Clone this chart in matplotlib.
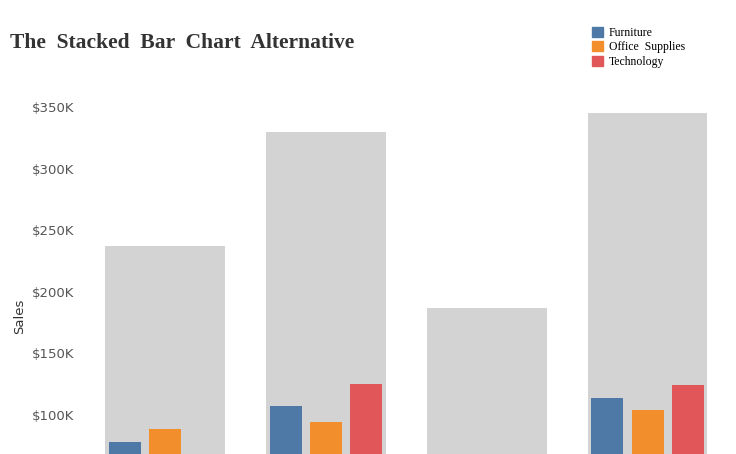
import matplotlib.pyplot as plt
import numpy as np
from matplotlib.patches import Patch

groups = [0, 1, 2, 3]
totals = [237, 330, 187, 345]
furniture = [78, 107, 60, 114]
office = [89, 94, 60, 104]
technology = [60, 125, 60, 124]
yticks = [100, 150, 200, 250, 300, 350]
ytick_labels = ["$100K", "$150K", "$200K", "$250K", "$300K", "$350K"]

fig = plt.figure(figsize=(7.36, 4.54), dpi=100)
ax = fig.add_axes([85/736, 0, 651/736, 369/454])
x = np.array(groups)
ax.bar(x, totals, width=0.745, color="#d3d3d3", zorder=1)
ax.bar(x - 0.25, furniture, width=0.2, color="#4e79a7", zorder=2)
ax.bar(x, office, width=0.2, color="#f28e2b", zorder=2)
ax.bar(x + 0.25, technology, width=0.2, color="#e15759", zorder=2)
ax.set_xlim(-0.5, 3.55)
ax.set_ylim(68.3, 368)
ax.set_yticks(yticks)
ax.set_yticklabels(ytick_labels, color="#555555", fontsize=9.5)
ax.set_xticks([])
ax.tick_params(axis="y", length=0, pad=8)
for s in ax.spines.values():
    s.set_visible(False)
fig.text(20/736, 1 - 316/454, "Sales", rotation=90, va="center", ha="center", fontsize=9.5, color="#333333")
fig.text(10/736, 1 - 43/454, "The  Stacked  Bar  Chart  Alternative", family="Liberation Serif",
         fontweight="bold", fontsize=15.5, color="#333333", va="center")
handles = [Patch(color="#4e79a7"), Patch(color="#f28e2b"), Patch(color="#e15759")]
fig.legend(handles, ["Furniture", "Office  Supplies", "Technology"], loc="upper left",
           bbox_to_anchor=(592/736, 1 - 27/454), frameon=False, prop={"family": "Liberation Serif", "size": 8.5},
           handlelength=0.9, handleheight=0.9, labelspacing=0.2, handletextpad=0.5, borderaxespad=0, borderpad=0)
fig.savefig("out.png", dpi=100)
